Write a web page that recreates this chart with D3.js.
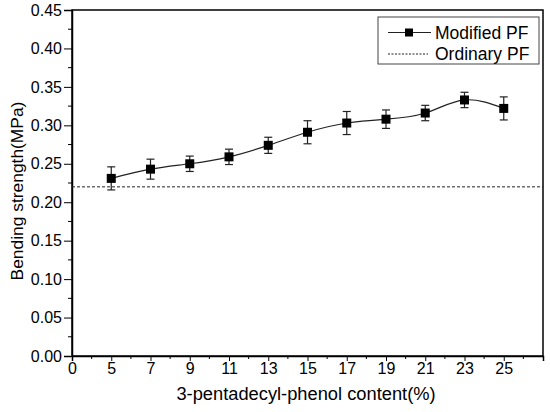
<!DOCTYPE html>
<html>
<head>
<meta charset="utf-8">
<script src="https://cdn.jsdelivr.net/npm/d3@7"></script>
<style>
  body { margin: 0; background: #fff; }
  text { font-family: "Liberation Sans", Arial, sans-serif; fill: #000; }
</style>
</head>
<body>
<div id="chart"></div>
<script>
// tick labels on x (equally spaced categories)
var xLabels = [0, 5, 7, 9, 11, 13, 15, 17, 19, 21, 23, 25];
// modified PF series
var content = [5, 7, 9, 11, 13, 15, 17, 19, 21, 23, 25];
var strength = [0.231, 0.243, 0.250, 0.259, 0.274, 0.291, 0.303, 0.308, 0.316, 0.333, 0.322];
var errors = [0.015, 0.013, 0.010, 0.010, 0.0105, 0.015, 0.015, 0.012, 0.010, 0.010, 0.015];
// ordinary PF reference level
var ordinary = 0.22;
var yTicks = [0, 0.05, 0.10, 0.15, 0.20, 0.25, 0.30, 0.35, 0.40, 0.45];

var W = 550, H = 412;
var mLeft = 72, mRight = 543, mTop = 10, mBottom = 356;

var svg = d3.select("#chart").append("svg").attr("width", W).attr("height", H);

var x = d3.scaleLinear().domain([0, 12]).range([mLeft, mRight]);
var y = d3.scaleLinear().domain([0, 0.45]).range([mBottom, mTop]);

var pts = content.map(function (c, i) {
  return { i: xLabels.indexOf(c), v: strength[i], e: errors[i] };
});

// frame
svg.append("rect")
  .attr("x", mLeft).attr("y", mTop)
  .attr("width", mRight - mLeft).attr("height", mBottom - mTop)
  .attr("fill", "none").attr("stroke", "#000").attr("stroke-width", 1.5);

// x axis
var gx = svg.append("g").attr("transform", "translate(0," + mBottom + ")");
gx.call(d3.axisBottom(x)
  .tickValues(d3.range(0, 12))
  .tickSize(5)
  .tickFormat(function (d) { return xLabels[d]; }));
gx.selectAll(".minor")
  .data(d3.range(0.5, 12.5, 1))
  .enter().append("line").attr("class", "minor")
  .attr("x1", function (d) { return x(d); }).attr("x2", function (d) { return x(d); })
  .attr("y1", 0).attr("y2", 3).attr("stroke", "#000");
gx.select(".domain").attr("stroke-width", 1.5);
gx.selectAll(".tick text").attr("font-size", 16).attr("dy", "0.85em").attr("y", 4);

// y axis
var gy = svg.append("g").attr("transform", "translate(" + mLeft + ",0)");
gy.call(d3.axisLeft(y).tickValues(yTicks).tickSize(8).tickFormat(d3.format(".2f")));
gy.selectAll(".minor")
  .data(d3.range(0.025, 0.45, 0.05))
  .enter().append("line").attr("class", "minor")
  .attr("y1", function (d) { return y(d); }).attr("y2", function (d) { return y(d); })
  .attr("x1", 0).attr("x2", -4).attr("stroke", "#000");
gy.select(".domain").attr("stroke-width", 1.5);
gy.selectAll(".tick text").attr("font-size", 16).attr("x", -10);

// axis titles
svg.append("text")
  .attr("x", 306).attr("y", 400)
  .attr("text-anchor", "middle").attr("font-size", 18.3)
  .text("3-pentadecyl-phenol content(%)");
svg.append("text")
  .attr("transform", "translate(23,191) rotate(-90)")
  .attr("text-anchor", "middle").attr("font-size", 17.4)
  .text("Bending strength(MPa)");

// ordinary PF dashed line
svg.append("line")
  .attr("x1", x(0)).attr("x2", x(12))
  .attr("y1", y(ordinary)).attr("y2", y(ordinary))
  .attr("stroke", "#222").attr("stroke-width", 1).attr("stroke-dasharray", "3,2");

// modified PF curve
var line = d3.line()
  .x(function (d) { return x(d.i); })
  .y(function (d) { return y(d.v); })
  .curve(d3.curveNatural);
svg.append("path").datum(pts)
  .attr("d", line).attr("fill", "none")
  .attr("stroke", "#222").attr("stroke-width", 1.2);

// error bars
var eb = svg.append("g").attr("stroke", "#222").attr("stroke-width", 1.2);
pts.forEach(function (d) {
  var cx = x(d.i);
  eb.append("line").attr("x1", cx).attr("x2", cx).attr("y1", y(d.v - d.e)).attr("y2", y(d.v + d.e));
  eb.append("line").attr("x1", cx - 4).attr("x2", cx + 4).attr("y1", y(d.v + d.e)).attr("y2", y(d.v + d.e));
  eb.append("line").attr("x1", cx - 4).attr("x2", cx + 4).attr("y1", y(d.v - d.e)).attr("y2", y(d.v - d.e));
});

// markers
svg.selectAll("rect.pt").data(pts).enter().append("rect").attr("class", "pt")
  .attr("x", function (d) { return x(d.i) - 4.5; })
  .attr("y", function (d) { return y(d.v) - 4.5; })
  .attr("width", 9).attr("height", 9).attr("fill", "#000");

// legend
var lg = svg.append("g");
lg.append("rect").attr("x", 378).attr("y", 17).attr("width", 161).attr("height", 47)
  .attr("fill", "#fff").attr("stroke", "#444").attr("stroke-width", 1);
lg.append("line").attr("x1", 388).attr("x2", 431).attr("y1", 32.5).attr("y2", 32.5)
  .attr("stroke", "#222").attr("stroke-width", 1.2);
lg.append("rect").attr("x", 405).attr("y", 28.5).attr("width", 8).attr("height", 8).attr("fill", "#000");
lg.append("text").attr("x", 435).attr("y", 38.5).attr("font-size", 17.5).text("Modified PF");
lg.append("line").attr("x1", 388).attr("x2", 428).attr("y1", 54).attr("y2", 54)
  .attr("stroke", "#222").attr("stroke-width", 1).attr("stroke-dasharray", "2,1.5");
lg.append("text").attr("x", 435).attr("y", 60).attr("font-size", 17.5).text("Ordinary PF");
</script>
</body>
</html>
